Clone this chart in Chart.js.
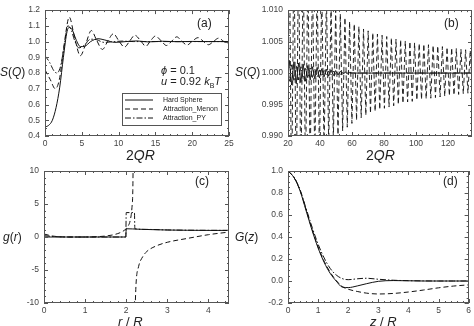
<!DOCTYPE html>
<html>
<head>
<meta charset="utf-8">
<script src="https://cdn.jsdelivr.net/npm/chart.js@4.4.0/dist/chart.umd.min.js"></script>
<style>
  html, body { margin: 0; padding: 0; background: #fff; }
  #fig { position: relative; width: 474px; height: 326px; overflow: hidden;
         font-family: "Liberation Sans", Arial, sans-serif; color: #222; }
  #fig canvas { position: absolute; }
  .lbl { position: absolute; white-space: nowrap; line-height: 1; }
  .ttl { font-size: 12px; }
  .tag { font-size: 12px; }
  .note { font-size: 11px; }
  #legend { position: absolute; left: 122px; top: 93px; width: 98px; height: 31px;
            border: 1px solid #555; background: #fff; font-size: 7px; }
  #legend div { position: absolute; left: 2px; width: 94px; height: 9px; white-space: nowrap; }
  #legend svg { position: absolute; left: 0; top: 2px; }
  #legend span { position: absolute; left: 38px; top: 0; line-height: 8px; }
</style>
</head>
<body>
<div id="fig">
  <canvas id="cA" width="237" height="160" style="left:0;top:0"></canvas>
  <canvas id="cB" width="237" height="160" style="left:237px;top:0"></canvas>
  <canvas id="cC" width="237" height="166" style="left:0;top:160px"></canvas>
  <canvas id="cD" width="237" height="166" style="left:237px;top:160px"></canvas>

  <div class="lbl ttl" style="left:0;top:66px"><i>S</i>(<i>Q</i>)</div>
  <div class="lbl ttl" style="left:235px;top:66px"><i>S</i>(<i>Q</i>)</div>
  <div class="lbl ttl" style="left:3px;top:231px"><i>g</i>(<i>r</i>)</div>
  <div class="lbl ttl" style="left:235px;top:231px"><i>G</i>(<i>z</i>)</div>
  <div class="lbl ttl" style="left:126px;top:148px;font-size:14px">2<i>QR</i></div>
  <div class="lbl ttl" style="left:366px;top:148px;font-size:14px">2<i>QR</i></div>
  <div class="lbl ttl" style="left:118px;top:315px;font-size:13px"><i>r</i> / <i>R</i></div>
  <div class="lbl ttl" style="left:370px;top:315px;font-size:13px"><i>z</i> / <i>R</i></div>

  <div class="lbl tag" style="left:197px;top:17px">(a)</div>
  <div class="lbl tag" style="left:444px;top:17px">(b)</div>
  <div class="lbl tag" style="left:195px;top:175px">(c)</div>
  <div class="lbl tag" style="left:443px;top:175px">(d)</div>

  <div class="lbl note" style="left:161px;top:65px"><i>ϕ</i> = 0.1</div>
  <div class="lbl note" style="left:161px;top:76px"><i>u</i> = 0.92 <i>k</i><sub style="font-size:7px">B</sub><i>T</i></div>

  <div id="legend">
    <div style="top:2px"><svg width="30" height="4"><line x1="0" y1="2" x2="28" y2="2" stroke="#111" stroke-width="1"/></svg><span>Hard Sphere</span></div>
    <div style="top:11px"><svg width="30" height="4"><line x1="0" y1="2" x2="28" y2="2" stroke="#111" stroke-width="1" stroke-dasharray="5 3"/></svg><span>Attraction_Menon</span></div>
    <div style="top:20px"><svg width="30" height="4"><line x1="0" y1="2" x2="28" y2="2" stroke="#111" stroke-width="1" stroke-dasharray="6 2 1.5 2"/></svg><span>Attraction_PY</span></div>
  </div>
</div>

<script>
// (a) S(Q) over 2QR = 0..25
const hsQA = [0, 0.5, 1.0, 1.5, 2.0, 2.5, 3.0, 3.3, 3.7, 4.2, 4.8, 5.4, 6.2, 7.2, 8.3, 9.5, 11, 12.5, 14, 16, 18, 20, 22, 25];
const hsSA = [0.457, 0.468, 0.50, 0.58, 0.71, 0.90, 1.065, 1.09, 1.075, 1.015, 0.968, 0.97, 1.0, 1.018, 1.008, 0.995, 1.0, 1.004, 0.998, 1.002, 0.999, 1.001, 1.0, 1.0];
const menonQA = [0, 0.7, 1.4, 2.0, 2.6, 3.3, 4.0, 4.8, 5.5, 6.3, 7.0, 7.8, 8.5, 9.3, 10.0, 10.8, 11.5, 12.2, 13.0, 13.7, 14.3, 15.0, 15.8, 16.5, 17.2, 17.9, 18.6, 19.3, 20.0, 20.8, 21.5, 22.2, 22.9, 23.6, 24.3, 25.0];
const menonSA = [0.82, 0.76, 0.70, 0.77, 0.98, 1.155, 1.03, 0.91, 0.98, 1.07, 1.01, 0.95, 1.0, 1.05, 1.007, 0.965, 1.003, 1.04, 1.005, 0.97, 1.002, 1.035, 1.004, 0.975, 1.002, 1.03, 1.002, 0.978, 1.002, 1.025, 1.002, 0.98, 1.001, 1.022, 1.0, 0.983];
const pyQA = [0, 0.6, 1.2, 1.6, 2.1, 2.6, 3.1, 3.6, 4.0, 4.6, 5.3, 6.2, 7.0, 8.0, 9.0, 10.5, 12, 14, 17, 20, 25];
const pySA = [0.91, 0.87, 0.815, 0.80, 0.84, 0.97, 1.10, 1.07, 1.01, 0.96, 0.975, 1.015, 1.012, 0.995, 0.998, 1.003, 1.0, 1.0, 1.0, 1.0, 1.0];

// (b) S(Q) tail, 2QR = 20..135 (turning points of the oscillations)
const menonQB = [19.35, 20.8, 22.25, 23.7, 25.15, 26.6, 28.05, 29.5, 30.95, 32.4, 33.85, 35.3, 36.75, 38.2, 39.65, 41.1, 42.55, 44.0, 45.45, 46.9, 48.35, 49.8, 51.25, 52.7, 54.15, 55.6, 57.05, 58.5, 59.95, 61.4, 62.85, 64.3, 65.75, 67.2, 68.65, 70.1, 71.55, 73.0, 74.45, 75.9, 77.35, 78.8, 80.25, 81.7, 83.15, 84.6, 86.05, 87.5, 88.95, 90.4, 91.85, 93.3, 94.75, 96.2, 97.65, 99.1, 100.55, 102.0, 103.45, 104.9, 106.35, 107.8, 109.25, 110.7, 112.15, 113.6, 115.05, 116.5, 117.95, 119.4, 120.85, 122.3, 123.75, 125.2, 126.65, 128.1, 129.55, 131.0, 132.45, 133.9, 135.35];
const menonSB = [0.978, 1.0230, 0.9790, 1.0215, 0.9800, 1.0200, 0.9815, 1.0185, 0.9830, 1.0170, 0.9845, 1.0158, 0.9855, 1.0146, 0.9866, 1.0136, 0.9876, 1.0126, 0.9885, 1.0112, 0.9894, 1.0100, 0.9902, 1.0094, 0.9908, 1.0088, 0.9914, 1.0082, 0.9920, 1.0078, 0.9925, 1.0074, 0.9929, 1.0070, 0.9933, 1.0067, 0.9936, 1.0064, 0.9939, 1.0062, 0.9942, 1.0060, 0.9944, 1.0058, 0.9946, 1.0056, 0.9948, 1.0054, 0.9950, 1.0053, 0.9952, 1.0051, 0.9954, 1.0050, 0.9955, 1.0048, 0.9957, 1.0047, 0.9958, 1.0046, 0.9959, 1.0045, 0.9960, 1.0044, 0.9961, 1.0043, 0.9962, 1.0042, 0.9963, 1.0041, 0.9964, 1.0040, 0.9965, 1.0039, 0.9966, 1.0038, 0.9967, 1.0037, 0.9968, 1.0036, 0.9969];
const nearQB = [19.35, 20.8, 22.25, 23.7, 25.15, 26.6, 28.05, 29.5, 30.95, 32.4, 33.85, 35.3, 36.75, 38.2, 39.65, 41.1, 42.55, 44.0, 45.45, 46.9, 48.35, 49.8, 51.25, 52.7, 54.15, 55.6, 57.05, 58.5, 59.95, 135];
const hsSB = [0.9980, 1.0020, 0.9981, 1.0018, 0.9983, 1.0016, 0.9985, 1.0014, 0.9987, 1.0012, 0.9989, 1.0010, 0.9991, 1.0009, 0.9992, 1.0007, 0.9994, 1.0006, 0.9995, 1.0005, 0.9996, 1.0004, 0.9997, 1.0003, 0.9998, 1.0002, 0.9999, 1.0001, 1.0, 1.0];
const pySB = [1.0016, 0.9986, 1.0013, 0.9987, 1.0012, 0.9989, 1.0010, 0.9990, 1.0009, 0.9992, 1.0008, 0.9993, 1.0006, 0.9994, 1.0005, 0.9995, 1.0004, 0.9996, 1.0003, 0.9997, 1.0003, 0.9998, 1.0002, 0.9998, 1.0001, 0.9999, 1.0001, 1.0, 1.0, 1.0];

// (c) g(r) over r/R = 0..4.5 (null splits the diverging branch)
const hsRC = [0, 1.99, 2.0, 2.3, 2.6, 3.0, 3.5, 4.0, 4.5];
const hsGC = [0, 0, 1.25, 1.18, 1.12, 1.06, 1.02, 1.0, 1.0];
const menonRC = [0, 0.1, 0.2, 0.4, 0.6, 1.0, 1.3, 1.5, 1.7, 1.85, 1.95, 2.05, 2.1, 2.14, 2.16, 2.17, 2.19, 2.21, 2.24, 2.3, 2.4, 2.5, 2.75, 3.0, 3.5, 4.0, 4.5];
const menonGC = [0.45, 0.3, 0.15, 0.03, 0, 0, 0.05, 0.15, 0.35, 0.65, 1.0, 1.7, 2.6, 4.5, 7, 12, null, -12, -7, -4.5, -3.0, -2.2, -1.3, -0.8, -0.2, 0.35, 0.75];
const pyRC = [0, 0.3, 0.6, 1.99, 2.0, 2.2, 2.21, 2.5, 3.0, 3.5, 4.5];
const pyGC = [0.2, 0.05, 0, 0, 3.7, 3.7, 1.25, 1.15, 1.07, 1.03, 1.0];

// (d) G(z) over z/R = 0..6
const zD = [0, 0.2, 0.4, 0.6, 0.8, 1.0, 1.2, 1.4, 1.6, 1.8, 2.0, 2.3, 2.6, 3.0, 3.5, 4.0, 4.5, 5.0, 5.5, 6.0];
const hsGD = [1.0, 0.94, 0.82, 0.64, 0.46, 0.30, 0.17, 0.07, 0.0, -0.055, -0.06, -0.045, -0.025, -0.003, 0.004, 0.002, 0, 0, 0, 0];
const menonGD = [1.0, 0.94, 0.825, 0.65, 0.47, 0.31, 0.18, 0.08, 0.005, -0.05, -0.075, -0.095, -0.11, -0.118, -0.113, -0.1, -0.082, -0.062, -0.046, -0.035];
const pyGD = [1.0, 0.945, 0.83, 0.66, 0.49, 0.335, 0.21, 0.115, 0.055, 0.022, 0.012, 0.02, 0.025, 0.016, 0.007, 0.003, 0.001, 0, 0, 0];

// tick labels
const xTicksA = [0, 5, 10, 15, 20, 25];
const yTicksA = [0.4, 0.5, 0.6, 0.7, 0.8, 0.9, 1.0, 1.1, 1.2];
const xTicksB = [20, 40, 60, 80, 100, 120];
const yTicksB = [0.990, 0.995, 1.000, 1.005, 1.010];
const xTicksC = [0, 1, 2, 3, 4];
const yTicksC = [-10, -5, 0, 5, 10];
const xTicksD = [0, 1, 2, 3, 4, 5, 6];
const yTicksD = [-0.2, 0.0, 0.2, 0.4, 0.6, 0.8, 1.0];

Chart.defaults.font.family = '"Liberation Sans", Arial, sans-serif';

const pts = (xs, ys) => xs.map((x, i) => ({ x: x, y: ys[i] }));

const solid = { borderDash: [] };
const dashed = { borderDash: [5, 3] };
const dashDot = { borderDash: [6, 2, 1.5, 2] };

function line(xs, ys, style, smooth, width) {
  return Object.assign({
    data: pts(xs, ys),
    borderColor: '#111',
    borderWidth: width || 1,
    pointRadius: 0,
    fill: false,
    cubicInterpolationMode: smooth ? 'monotone' : 'default',
    tension: 0
  }, style);
}

// box around the plot with small inward ticks on all four sides
const frame = {
  id: 'frame',
  afterDatasetsDraw(chart, args, opts) {
    const { ctx, chartArea: a, scales } = chart;
    const x = scales.x, y = scales.y;
    ctx.save();
    ctx.strokeStyle = '#555';
    ctx.lineWidth = 1;
    ctx.strokeRect(Math.round(a.left) + 0.5, Math.round(a.top) + 0.5,
                   Math.round(a.width) - 1, Math.round(a.height) - 1);
    ctx.beginPath();
    const tickX = (v, len) => {
      const p = Math.round(x.getPixelForValue(v)) + 0.5;
      ctx.moveTo(p, a.bottom); ctx.lineTo(p, a.bottom - len);
      ctx.moveTo(p, a.top); ctx.lineTo(p, a.top + len);
    };
    const tickY = (v, len) => {
      const p = Math.round(y.getPixelForValue(v)) + 0.5;
      ctx.moveTo(a.left, p); ctx.lineTo(a.left + len, p);
      ctx.moveTo(a.right, p); ctx.lineTo(a.right - len, p);
    };
    for (let i = 0; x.min + i * opts.xMinor <= x.max + 1e-9; i++) tickX(x.min + i * opts.xMinor, 2);
    for (let i = 0; y.min + i * opts.yMinor <= y.max + 1e-9; i++) tickY(y.min + i * opts.yMinor, 2);
    opts.xMajor.forEach(v => tickX(v, 4));
    opts.yMajor.forEach(v => tickY(v, 4));
    ctx.stroke();
    ctx.restore();
  }
};

function makeChart(id, datasets, cfg) {
  const tickFont = { size: 8.5 };
  return new Chart(document.getElementById(id), {
    type: 'line',
    data: { datasets: datasets },
    plugins: [frame],
    options: {
      responsive: false,
      animation: false,
      events: [],
      layout: { padding: { left: 0, top: cfg.top, right: cfg.right, bottom: 0 } },
      plugins: {
        legend: { display: false },
        tooltip: { enabled: false },
        frame: { xMinor: cfg.xMinor, yMinor: cfg.yMinor, xMajor: cfg.xTicks, yMajor: cfg.yTicks }
      },
      scales: {
        x: {
          type: 'linear', min: cfg.xMin, max: cfg.xMax,
          afterBuildTicks: s => { s.ticks = cfg.xTicks.map(v => ({ value: v })); },
          afterFit: s => { s.height = cfg.xHeight; },
          grid: { display: false, drawTicks: false },
          border: { display: false },
          ticks: { color: '#444', font: tickFont, padding: 3, maxRotation: 0, autoSkip: false,
                   callback: v => String(v) }
        },
        y: {
          type: 'linear', min: cfg.yMin, max: cfg.yMax,
          afterBuildTicks: s => { s.ticks = cfg.yTicks.map(v => ({ value: v })); },
          afterFit: s => { s.width = cfg.yWidth; },
          grid: { display: false, drawTicks: false },
          border: { display: false },
          ticks: { color: '#444', font: tickFont, padding: 5, autoSkip: false,
                   callback: v => v.toFixed(cfg.yDigits) }
        }
      }
    }
  });
}

makeChart('cA', [
  line(hsQA, hsSA, solid, true),
  line(menonQA, menonSA, dashed, true),
  line(pyQA, pySA, dashDot, true)
], { xMin: 0, xMax: 25, yMin: 0.4, yMax: 1.2, xTicks: xTicksA, yTicks: yTicksA, yDigits: 1,
     xMinor: 1, yMinor: 0.05, top: 4, right: 8, yWidth: 45, xHeight: 24 });

makeChart('cB', [
  line(menonQB, menonSB, dashed, false, 0.9),
  line(nearQB, pySB, dashDot, false, 0.9),
  line(nearQB, hsSB, solid, false, 0.9)
], { xMin: 20, xMax: 135, yMin: 0.990, yMax: 1.010, xTicks: xTicksB, yTicks: yTicksB, yDigits: 3,
     xMinor: 4, yMinor: 0.001, top: 3, right: 2, yWidth: 51, xHeight: 24 });

makeChart('cC', [
  line(hsRC, hsGC, solid, true),
  line(menonRC, menonGC, dashed, true),
  line(pyRC, pyGC, dashDot, true)
], { xMin: 0, xMax: 4.5, yMin: -10, yMax: 10, xTicks: xTicksC, yTicks: yTicksC, yDigits: 0,
     xMinor: 0.2, yMinor: 1, top: 11, right: 8, yWidth: 44, xHeight: 23 });

makeChart('cD', [
  line(zD, hsGD, solid, true),
  line(zD, menonGD, dashed, true),
  line(zD, pyGD, dashDot, true)
], { xMin: 0, xMax: 6, yMin: -0.2, yMax: 1.0, xTicks: xTicksD, yTicks: yTicksD, yDigits: 1,
     xMinor: 0.2, yMinor: 0.05, top: 11, right: 2, yWidth: 51, xHeight: 23 });
</script>
</body>
</html>
